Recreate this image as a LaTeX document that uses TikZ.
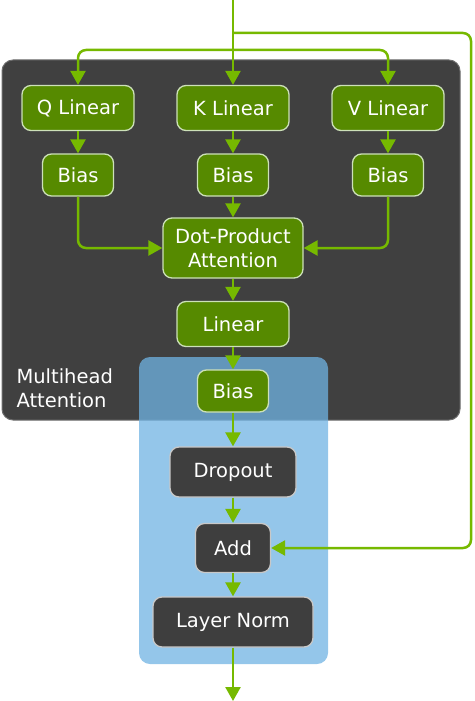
\documentclass[tikz,border=0pt]{standalone}
\usepackage{fontspec}
\setmainfont{DejaVu Sans}
\usetikzlibrary{arrows.meta}
\definecolor{nvgreen}{RGB}{118,185,0}
\definecolor{nodegreen}{RGB}{86,138,0}
\definecolor{darkbg}{RGB}{64,64,64}
\definecolor{darknode}{RGB}{62,62,62}
\definecolor{bluefill}{RGB}{112,179,227}
\tikzset{
  gbox/.style={draw={rgb,255:red,205;green,225;blue,185}, line width=1.3pt, fill=nodegreen, rounded corners=9pt, text=white, inner sep=0pt, font=\fontsize{19.5}{24}\selectfont, align=center},
  dbox/.style={draw={rgb,255:red,200;green,200;blue,200}, line width=1.3pt, fill=darknode, rounded corners=9pt, text=white, inner sep=0pt, font=\fontsize{19.5}{24}\selectfont},
  arr/.style={draw=nvgreen, line width=2.5pt, -{Triangle[length=14pt,width=15pt]}},
}
\begin{document}
\begin{tikzpicture}[x=1pt,y=-1pt]
\useasboundingbox (0,0) rectangle (474,701);
% containers
\draw[fill=darkbg, draw={rgb,255:red,110;green,110;blue,110}, line width=1pt, rounded corners=11pt] (2,60) rectangle (460,420);
\fill[bluefill, fill opacity=0.75, rounded corners=11pt] (139,357) rectangle (328,664);
\node[anchor=west, text=white, align=left, font=\fontsize{19.5}{24}\selectfont] (mha) at (13,388) {Multihead\\Attention};
% nodes
\node[gbox, minimum width=112pt, minimum height=45pt] (qlin) at (78,108) {Q Linear};
\node[gbox, minimum width=112pt, minimum height=45pt] (klin) at (233,108) {K Linear};
\node[gbox, minimum width=112pt, minimum height=45pt] (vlin) at (388,108) {V Linear};
\node[gbox, minimum width=71pt, minimum height=42pt] (qbias) at (78,175) {Bias};
\node[gbox, minimum width=71pt, minimum height=42pt] (kbias) at (233,175) {Bias};
\node[gbox, minimum width=71pt, minimum height=42pt] (vbias) at (388,175) {Bias};
\node[gbox, minimum width=140pt, minimum height=60pt] (dpa) at (233,248) {Dot-Product\\Attention};
\node[gbox, minimum width=112pt, minimum height=45pt] (lin) at (233,324) {Linear};
\node[gbox, minimum width=71pt, minimum height=42pt] (bias) at (233,391) {Bias};
\node[dbox, minimum width=126pt, minimum height=50pt] (drop) at (233,472) {Dropout};
\node[dbox, minimum width=75pt, minimum height=49pt] (add) at (233,548) {Add};
\node[dbox, minimum width=160pt, minimum height=50pt] (ln) at (233,622) {Layer Norm};
% coordinates
\coordinate (in) at (233,0);
\coordinate (s1) at (233,50);
\coordinate (s2) at (233,33);
\coordinate (out) at (233,701);
% connectors
\draw[arr] (in) -- (klin);
\draw[arr, rounded corners=8pt] (s1) -| (qlin);
\draw[arr, rounded corners=8pt] (s1) -| (vlin);
\draw[arr, rounded corners=8pt] (s2) -- (471,33) -- (471,548) -- (add.east);
\draw[arr] (qlin) -- (qbias);
\draw[arr] (klin) -- (kbias);
\draw[arr] (vlin) -- (vbias);
\draw[arr, rounded corners=8pt] (qbias.south) |- (dpa.west);
\draw[arr, rounded corners=8pt] (vbias.south) |- (dpa.east);
\draw[arr] (kbias) -- (dpa);
\draw[arr] (dpa) -- (lin);
\draw[arr] (lin) -- (bias);
\draw[arr] (bias) -- (drop);
\draw[arr] (drop) -- (add);
\draw[arr] (add) -- (ln);
\draw[arr] (ln) -- (out);
\end{tikzpicture}
\end{document}
